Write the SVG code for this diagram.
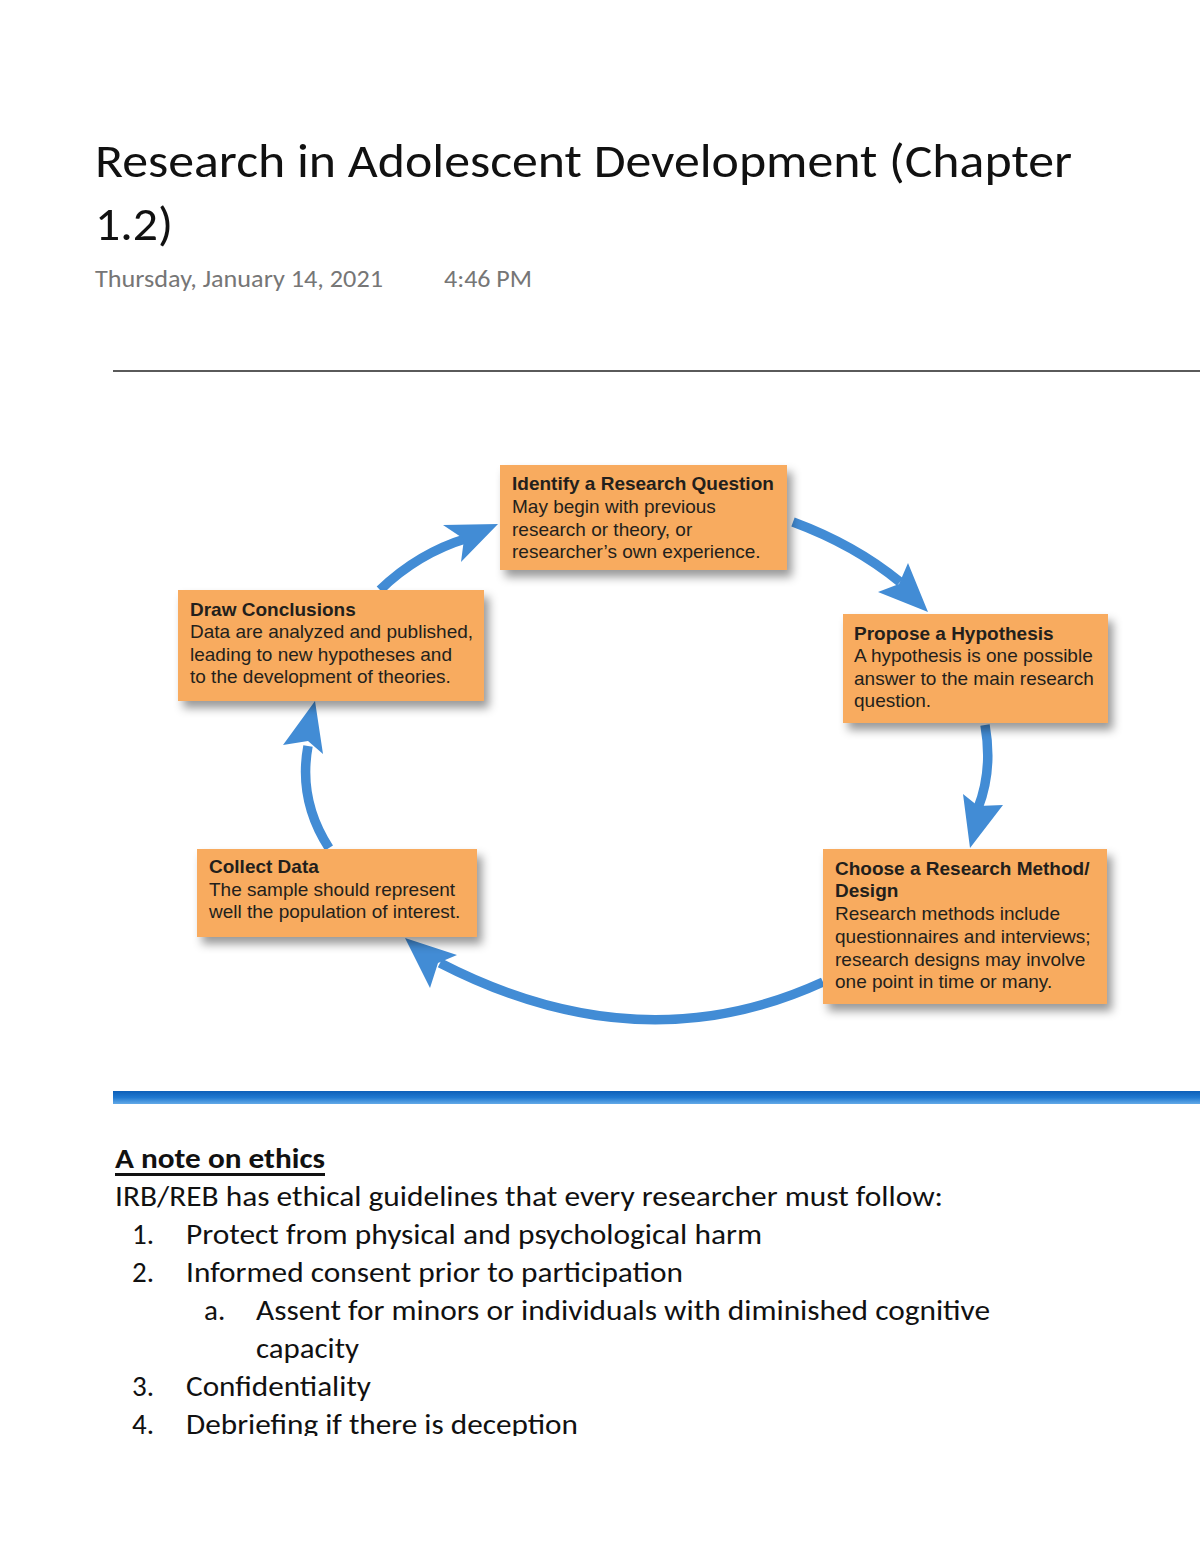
<svg xmlns="http://www.w3.org/2000/svg" width="1200" height="1553" viewBox="0 0 1200 1553">
<defs>
<filter id="sh" x="-10%" y="-10%" width="130%" height="140%">
<feDropShadow dx="5" dy="7" stdDeviation="5" flood-color="#000" flood-opacity="0.4"/>
</filter>
<linearGradient id="bar" x1="0" y1="0" x2="0" y2="1">
<stop offset="0" stop-color="#0d5fb8"/>
<stop offset="0.5" stop-color="#1f78d0"/>
<stop offset="1" stop-color="#63aae8"/>
</linearGradient>
<clipPath id="pageclip"><rect x="0" y="0" width="1200" height="1436"/></clipPath>
<style>
.box{fill:#F8AB5E;filter:url(#sh)}
.bt{font-family:"Liberation Sans",Arial,sans-serif;font-size:19px;fill:#231f1c}
.bb{font-weight:bold}
.shaft{fill:none;stroke:#428CD5;stroke-width:9.5;stroke-linecap:butt}
.head{fill:#428CD5}
.doc{font-family:Carlito,Calibri,Lato,"Open Sans",sans-serif}
.body{font-size:29px;fill:#111}
</style>
</defs>
<rect width="1200" height="1553" fill="#fff"/>

<g id="header">
<text class="doc" x="95" y="177" font-size="48" fill="#111" textLength="977" lengthAdjust="spacingAndGlyphs">Research in Adolescent Development (Chapter</text>
<text class="doc" x="95" y="240" font-size="48" fill="#111" textLength="78" lengthAdjust="spacingAndGlyphs">1.2)</text>
<text class="doc" x="95" y="287" font-size="24" fill="#767676" textLength="288" lengthAdjust="spacingAndGlyphs">Thursday, January 14, 2021</text>
<text class="doc" x="444" y="287" font-size="24" fill="#767676" textLength="88" lengthAdjust="spacingAndGlyphs">4:46 PM</text>
<line x1="113" y1="371" x2="1200" y2="371" stroke="#5a5a5a" stroke-width="2"/>
</g>

<g id="connectors">
<g id="c1">
<path class="shaft" d="M380,590 Q418,553 468,538"/>
<polygon class="head" points="498,524 443,525 464,539 461,562"/>
</g>
<g id="c2">
<path class="shaft" d="M793,522 Q855,545 900,582"/>
<polygon class="head" points="928,612 878,592 899,584 908,563"/>
</g>
<g id="c3">
<path class="shaft" d="M985,725 Q993,770 978,808"/>
<polygon class="head" points="970,848 963,794 978,806 1003,805"/>
</g>
<g id="c4">
<path class="shaft" d="M823,982 Q640,1066 440,963"/>
<polygon class="head" points="405,938 457,955 438,963 430,988"/>
</g>
<g id="c5">
<path class="shaft" d="M329,848 Q298,800 308,746"/>
<polygon class="head" points="315,701 283,745 308,741 323,754"/>
</g>
</g>

<g id="n-identify">
<rect class="box" x="500" y="465" width="287" height="105"/>
<text class="bt bb" x="512" y="490">Identify a Research Question</text>
<text class="bt" x="512" y="513">May begin with previous</text>
<text class="bt" x="512" y="536">research or theory, or</text>
<text class="bt" x="512" y="558">researcher’s own experience.</text>
</g>

<g id="n-propose">
<rect class="box" x="843" y="614" width="265" height="109"/>
<text class="bt bb" x="854" y="640">Propose a Hypothesis</text>
<text class="bt" x="854" y="662">A hypothesis is one possible</text>
<text class="bt" x="854" y="685">answer to the main research</text>
<text class="bt" x="854" y="707">question.</text>
</g>

<g id="n-choose">
<rect class="box" x="823" y="849" width="284" height="155"/>
<text class="bt bb" x="835" y="875">Choose a Research Method/</text>
<text class="bt bb" x="835" y="897">Design</text>
<text class="bt" x="835" y="920">Research methods include</text>
<text class="bt" x="835" y="943">questionnaires and interviews;</text>
<text class="bt" x="835" y="966">research designs may involve</text>
<text class="bt" x="835" y="988">one point in time or many.</text>
</g>

<g id="n-collect">
<rect class="box" x="197" y="849" width="280" height="88"/>
<text class="bt bb" x="209" y="873">Collect Data</text>
<text class="bt" x="209" y="896">The sample should represent</text>
<text class="bt" x="209" y="918">well the population of interest.</text>
</g>

<g id="n-draw">
<rect class="box" x="178" y="590" width="306" height="111"/>
<text class="bt bb" x="190" y="616">Draw Conclusions</text>
<text class="bt" x="190" y="638">Data are analyzed and published,</text>
<text class="bt" x="190" y="661">leading to new hypotheses and</text>
<text class="bt" x="190" y="683">to the development of theories.</text>
</g>

<g id="ethics" clip-path="url(#pageclip)">
<rect x="113" y="1091" width="1087" height="13" fill="url(#bar)"/>
<text class="doc body" x="115" y="1168" font-weight="bold" textLength="210" lengthAdjust="spacingAndGlyphs">A note on ethics</text>
<rect x="115" y="1173" width="210" height="3" fill="#111"/>
<text class="doc body" x="115" y="1206" textLength="828" lengthAdjust="spacingAndGlyphs">IRB/REB has ethical guidelines that every researcher must follow:</text>
<text class="doc body" x="132" y="1244">1.</text>
<text class="doc body" x="186" y="1244" textLength="576" lengthAdjust="spacingAndGlyphs">Protect from physical and psychological harm</text>
<text class="doc body" x="132" y="1282">2.</text>
<text class="doc body" x="186" y="1282" textLength="497" lengthAdjust="spacingAndGlyphs">Informed consent prior to participation</text>
<text class="doc body" x="204" y="1320">a.</text>
<text class="doc body" x="256" y="1320" textLength="734" lengthAdjust="spacingAndGlyphs">Assent for minors or individuals with diminished cognitive</text>
<text class="doc body" x="256" y="1358" textLength="103" lengthAdjust="spacingAndGlyphs">capacity</text>
<text class="doc body" x="132" y="1396">3.</text>
<text class="doc body" x="186" y="1396" textLength="185" lengthAdjust="spacingAndGlyphs">Confidentiality</text>
<text class="doc body" x="132" y="1434">4.</text>
<text class="doc body" x="186" y="1434" textLength="392" lengthAdjust="spacingAndGlyphs">Debriefing if there is deception</text>
</g>
</svg>
